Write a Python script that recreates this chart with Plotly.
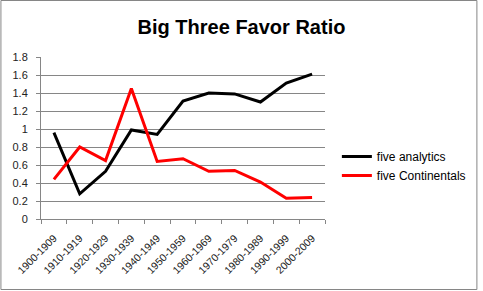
import plotly.graph_objects as go

categories = ["1900-1909", "1910-1919", "1920-1929", "1930-1939", "1940-1949",
              "1950-1959", "1960-1969", "1970-1979", "1980-1989", "1990-1999", "2000-2009"]
analytics = [0.96, 0.28, 0.53, 0.99, 0.94, 1.31, 1.40, 1.39, 1.30, 1.51, 1.61]
continentals = [0.44, 0.80, 0.65, 1.45, 0.64, 0.67, 0.53, 0.54, 0.41, 0.23, 0.24]

W, H = 483, 291
L, R, T, B = 41, 155, 57, 72
pw, ph = W - L - R, H - T - B

fig = go.Figure()
fig.add_trace(go.Scatter(x=categories, y=analytics, mode="lines", name="five analytics",
                         line=dict(color="#000000", width=3)))
fig.add_trace(go.Scatter(x=categories, y=continentals, mode="lines", name="five Continentals",
                         line=dict(color="#ff0000", width=3)))

def px_x(p):
    return (p - L) / pw

def px_y(p):
    return (H - B - p) / ph

fig.update_layout(
    width=W, height=H,
    margin=dict(l=L, r=R, t=T, b=B),
    paper_bgcolor="white", plot_bgcolor="white",
    font=dict(family="Liberation Sans, Arial, sans-serif", size=11, color="#000000"),
    title=dict(text="<b>Big Three Favor Ratio</b>", x=0.5, xref="container", xanchor="center",
               y=1 - 27 / H, yref="container", yanchor="middle",
               font=dict(size=20, color="#000000")),
    xaxis=dict(type="category", range=[-0.5, len(categories) - 0.5],
               showline=True, linecolor="#868686", linewidth=1,
               ticks="outside", tickson="boundaries", ticklen=4, tickcolor="#868686",
               tickangle=-45, showgrid=False, tickfont=dict(size=10.5, color="#222222"),
               ticklabelstandoff=8),
    yaxis=dict(range=[0, 1.8], dtick=0.2, showline=True, linecolor="#868686", linewidth=1,
               ticks="outside", ticklen=4, tickcolor="#868686",
               showgrid=True, gridcolor="#868686", gridwidth=1, zeroline=False,
               tickfont=dict(size=11, color="#222222"), ticklabelstandoff=6),
    legend=dict(x=px_x(340), y=px_y(166), xanchor="left", yanchor="middle",
                font=dict(size=12), itemwidth=30, tracegroupgap=2,
                bgcolor="rgba(0,0,0,0)"),
    showlegend=True,
    shapes=[dict(type="rect", xref="paper", yref="paper",
                 x0=px_x(0.5), x1=px_x(W - 1.5), y0=px_y(H - 1.5), y1=px_y(0.5),
                 line=dict(color="#868686", width=1), layer="below")],
)

fig.write_html("out.html")
